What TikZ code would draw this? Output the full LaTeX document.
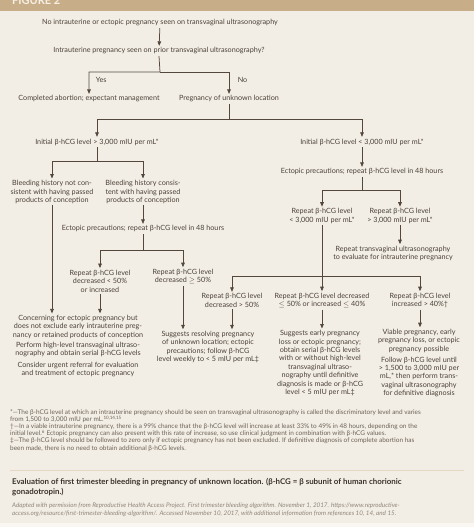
\documentclass[tikz,border=0pt]{standalone}
\usepackage{fontspec}
\setmainfont{Lato}
\usetikzlibrary{arrows.meta}
\definecolor{bg}{HTML}{F3EEE5}
\definecolor{band}{HTML}{C8AE88}
\definecolor{bandtxt}{HTML}{F5EFE4}
\definecolor{ink}{HTML}{4A4139}
\definecolor{lineC}{HTML}{54473B}
\definecolor{footC}{HTML}{6B6259}
\definecolor{credC}{HTML}{8E857C}
\definecolor{capC}{HTML}{3A322C}
\tikzset{
  flow/.style={font=\fontsize{7.2}{8.4}\selectfont, text=ink, align=center, inner sep=0pt, outer sep=1.8pt},
  conn/.style={draw=lineC, line width=0.75pt},
  arr/.style={conn, -{Triangle[length=4.5pt,width=3.6pt]}},
}
\begin{document}
\begin{tikzpicture}[x=1pt,y=-1pt]
\clip (0,0) rectangle (474,527);
\fill[bg] (0,0) rectangle (474,527);
\fill[band] (0,0) rectangle (474,11);
\fill[white!55!bg] (0,523) rectangle (474,527);
\node[anchor=base west, inner sep=0pt, text=bandtxt, font=\bfseries\fontsize{11}{11}\selectfont] (fig) at (12,5) {FIGURE 2};

% flow nodes
\node[flow] (n1) at (160,23) {No intrauterine or ectopic pregnancy seen on transvaginal ultrasonography};
\node[flow] (n2) at (159,51) {Intrauterine pregnancy seen on prior transvaginal ultrasonography?};
\node[flow] (ca) at (89,99) {Completed abortion; expectant management};
\node[flow] (pul) at (229,99) {Pregnancy of unknown location};
\node[flow, anchor=west] (yes) at (94,80) {Yes};
\node[flow, anchor=west] (no) at (236,80) {No};
\node[flow] (iL) at (97,142) {Initial β-hCG level > 3,000 mIU per mL*};
\node[flow] (iR) at (362,142) {Initial β-hCG level < 3,000 mIU per mL*};
\node[flow] (bhn) at (52,192) {Bleeding history not con-\\sistent with having passed\\products of conception};
\node[flow] (bhc) at (143,192) {Bleeding history consis-\\tent with having passed\\products of conception};
\node[flow] (epL) at (143,229) {Ectopic precautions; repeat β-hCG level in 48 hours};
\node[flow] (epR) at (362,172) {Ectopic precautions; repeat β-hCG level in 48 hours};
\node[flow] (r1) at (100,281) {Repeat β-hCG level\\decreased < 50\%\\or increased};
\node[flow] (r2) at (183,276.5) {Repeat β-hCG level\\decreased $\geq$ 50\%};
\node[flow] (rr1) at (322,216) {Repeat β-hCG level\\< 3,000 mIU per mL*};
\node[flow] (rr2) at (400,216) {Repeat β-hCG level\\> 3,000 mIU per mL*};
\node[flow] (tvu) at (393,253.5) {Repeat transvaginal ultrasonography\\to evaluate for intrauterine pregnancy};
\node[flow] (r3) at (232,300.5) {Repeat β-hCG level\\decreased > 50\%};
\node[flow] (r4) at (322,300.5) {Repeat β-hCG level decreased\\$\leq$ 50\% or increased $\leq$ 40\%};
\node[flow] (r5) at (420,300.5) {Repeat β-hCG level\\increased > 40\%†};
\node[flow] (conc) at (78,346) {Concerning for ectopic pregnancy but\\does not exclude early intrauterine preg-\\nancy or retained products of conception\\[1.8pt]Perform high-level transvaginal ultraso-\\nography and obtain serial β-hCG levels\\[2.8pt]Consider urgent referral for evaluation\\and treatment of ectopic pregnancy};
\node[flow] (sr) at (208,347) {Suggests resolving pregnancy\\of unknown location; ectopic\\precautions; follow β-hCG\\level weekly to < 5 mIU per mL‡};
\node[flow] (se) at (320,363) {Suggests early pregnancy\\loss or ectopic pregnancy;\\obtain serial β-hCG levels\\with or without high-level\\transvaginal ultraso-\\nography until definitive\\diagnosis is made or β-hCG\\level < 5 mIU per mL‡};
\node[flow] (vp) at (419,363) {Viable pregnancy, early\\pregnancy loss, or ectopic\\pregnancy possible\\[2.5pt]Follow β-hCG level until\\> 1,500 to 3,000 mIU per\\mL,* then perform trans-\\vaginal ultrasonography\\for definitive diagnosis};

% junctions
\coordinate (j1) at (160,72);
\coordinate (j2) at (229,119);
\coordinate (j3) at (97,161);
\coordinate (j4) at (143,250);
\coordinate (j5) at (362,190);
\coordinate (j6) at (322,276);

% connectors
\draw[arr] (n1) -- (n2);
\draw[arr] (n2.south) -- (j1) -| (ca.north);
\draw[arr] (j1) -| (pul.north);
\draw[arr] (pul.south) -- (j2) -| (iL.north);
\draw[arr] (j2) -| (iR.north);
\draw[arr] (iL.south) -- (j3) -| (bhn.north);
\draw[arr] (j3) -| (bhc.north);
\draw[arr] (bhc) -- (epL);
\draw[arr] (bhn.south) -- (bhn.south |- conc.north);
\draw[arr] (epL.south) -- (j4) -| (r1.north);
\draw[arr] (j4) -| (r2.north);
\draw[arr] (r1.south) -- (r1.south |- conc.north);
\draw[arr] (r2.south) -- (r2.south |- sr.north);
\draw[arr] (iR) -- (epR);
\draw[arr] (epR.south) -- (j5) -| (rr1.north);
\draw[arr] (j5) -| (rr2.north);
\draw[arr] (rr2.south) -- (rr2.south |- tvu.north);
\draw[arr] (rr1) -- (r4);
\draw[arr] (j6) -| (r3.north);
\draw[arr] (j6) -| (r5.north);
\draw[arr] (r3.south) -- (r3.south |- sr.north);
\draw[arr] (r4.south) -- (r4.south |- se.north);
\draw[arr] (r5.south) -- (r5.south |- vp.north);

% footnotes
\node[anchor=north west, align=left, inner sep=0pt, text=footC, font=\fontsize{6.45}{7.1}\selectfont] (foot) at (10,409.5) {*—The β-hCG level at which an intrauterine pregnancy should be seen on transvaginal ultrasonography is called the discriminatory level and varies\\from 1,500 to 3,000 mIU per mL.\textsuperscript{10,14,15}\\†—In a viable intrauterine pregnancy, there is a 99\% chance that the β-hCG level will increase at least 33\% to 49\% in 48 hours, depending on the\\initial level.\textsuperscript{6} Ectopic pregnancy can also present with this rate of increase, so use clinical judgment in combination with β-hCG values.\\‡—The β-hCG level should be followed to zero only if ectopic pregnancy has not been excluded. If definitive diagnosis of complete abortion has\\been made, there is no need to obtain additional β-hCG levels.};

\coordinate (sepL) at (10,470);
\coordinate (sepR) at (464,470);
\draw[draw=band!35!bg, line width=0.6pt] (sepL) -- (sepR);

\node[anchor=north west, align=left, inner sep=0pt, text=capC, font=\bfseries\fontsize{7.9}{10}\selectfont] (cap) at (12,478) {Evaluation of first trimester bleeding in pregnancy of unknown location. (β-hCG = β subunit of human chorionic\\gonadotropin.)};
\node[anchor=north west, align=left, inner sep=0pt, text=credC, font=\itshape\fontsize{6.3}{8}\selectfont] (cred) at (12,502.5) {Adapted with permission from Reproductive Health Access Project. First trimester bleeding algorithm. November 1, 2017. https://www.reproductive-\\access.org/resource/first-trimester-bleeding-algorithm/. Accessed November 10, 2017, with additional information from references 10, 14, and 15.};
\end{tikzpicture}
\end{document}
